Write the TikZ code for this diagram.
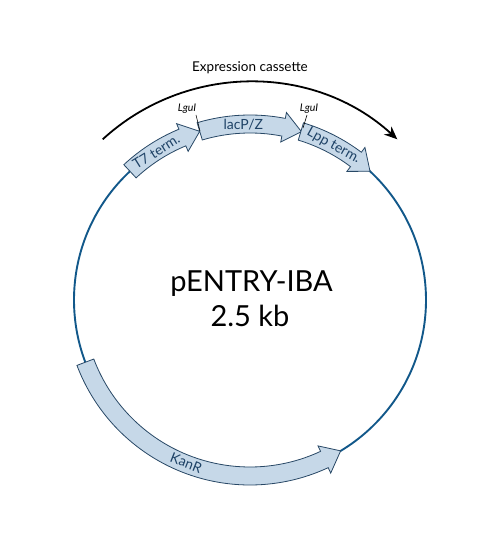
\documentclass[tikz,border=0pt]{standalone}
\usepackage{fontspec}
\setmainfont{Lato}
\usetikzlibrary{arrows.meta}
\definecolor{ringblue}{RGB}{18,88,138}
\definecolor{bandfill}{RGB}{198,216,232}
\definecolor{banddraw}{RGB}{40,72,102}
\definecolor{bandtext}{RGB}{30,66,102}
\tikzset{
  ring/.style={draw=ringblue,line width=1.9pt},
  band/.style={draw=banddraw,fill=bandfill,line width=0.8pt,line join=miter},
  bandlabel/.style={text=bandtext,inner sep=0pt,font=\fontsize{14}{16}\selectfont},
  enzlabel/.style={text=black,inner sep=0pt,font=\fontsize{10.5}{12}\selectfont\itshape},
  tick/.style={draw=black,line width=0.6pt},
  cassette/.style={draw=black,line width=1.8pt,-{Stealth[length=13pt,width=11pt]}},
  bigtext/.style={inner sep=0pt,font=\fontsize{29}{33}\selectfont}
}
% clockwise band: #1 tail angle, #2 tip angle
\newcommand{\bandcw}[2]{%
  \draw[band] (#1:185) arc[start angle=#1, end angle={#2+6}, radius=185]
    -- ({#2+6}:191) -- (#2:176) -- ({#2+6}:161) -- ({#2+6}:167)
    arc[start angle={#2+6}, end angle=#1, radius=167] -- cycle;}
% counter-clockwise band
\newcommand{\bandccw}[2]{%
  \draw[band] (#1:185) arc[start angle=#1, end angle={#2-6}, radius=185]
    -- ({#2-6}:191) -- (#2:176) -- ({#2-6}:161) -- ({#2-6}:167)
    arc[start angle={#2-6}, end angle=#1, radius=167] -- cycle;}
\begin{document}
\begin{tikzpicture}[x=1pt,y=1pt]
\useasboundingbox (0,0) rectangle (500,550);
\fill[white] (0,0) rectangle (500,550);
\begin{scope}[shift={(250,250)}]
  % plasmid ring
  \draw[ring] (0,0) circle[radius=176];
  % features
  \bandcw{133}{106.6}
  \bandcw{106.6}{73}
  \bandcw{73.2}{47}
  \bandccw{200.7}{301}
  % feature labels
  \node[bandlabel,rotate=32] (t7lbl) at (122.3:175.5) {T7 term.};
  \node[bandlabel] (laclbl) at (92.2:175) {lacP/Z};
  \node[bandlabel,rotate=-29] (lpplbl) at (61.5:175.5) {Lpp term.};
  \node[bandlabel,rotate=-21.5] (kanlbl) at (248.6:175) {KanR};
  % LguI sites
  \coordinate (t1a) at (-50,169);
  \node[enzlabel] (lgu1) at (-63,191) {LguI};
  \draw[tick] (t1a) -- (-54,185);
  \coordinate (t2a) at (53,172);
  \node[enzlabel] (lgu2) at (59,191) {LguI};
  \draw[tick] (t2a) -- (57,185);
  % expression cassette arc
  \coordinate (ca) at (132.5:218);
  \draw[cassette] (ca) arc[start angle=132.5, end angle=47.5, radius=218] coordinate (cb);
  \node[inner sep=0pt,font=\fontsize{13.5}{15}\selectfont] (cass) at (0,232) {Expression cassette};
  % centre text
  \node[bigtext,anchor=base] (pname) at (1.5,8.3) {pENTRY-IBA};
  \node[bigtext,anchor=base] (psize) at (0,-26.7) {2.5 kb};
\end{scope}
\end{tikzpicture}
\end{document}
